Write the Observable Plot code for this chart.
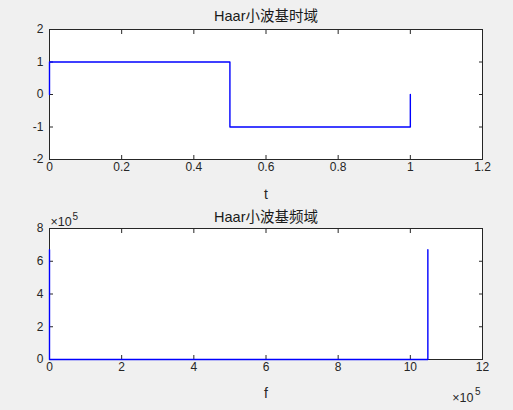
<!DOCTYPE html>
<html><head><meta charset="utf-8">
<script src="https://cdn.jsdelivr.net/npm/d3@7"></script>
<script src="https://cdn.jsdelivr.net/npm/@observablehq/plot@0.6"></script>
<style>
html,body{margin:0;padding:0;background:#f0f0f0;}
#wrap{width:513px;height:410px;position:relative;overflow:hidden;}
#wrap svg{position:absolute;left:0;display:block;overflow:visible;}
</style></head><body><div id="wrap"></div>
<script>
// Top: Haar wavelet in time domain
const tTime = [0, 0, 0.5, 0.5, 1, 1];
const yTime = [0, 1, 1, -1, -1, 0];
// Bottom: Haar wavelet spectrum
const fFreq = [0, 0, 1048575, 1048575];
const magFreq = [6.7e5, 0, 0, 6.7e5];

const xTicksTop = [0, 0.2, 0.4, 0.6, 0.8, 1, 1.2];
const yTicksTop = [-2, -1, 0, 1, 2];
const xTicksBottom = [0, 2e5, 4e5, 6e5, 8e5, 10e5, 12e5];
const yTicksBottom = [0, 2e5, 4e5, 6e5, 8e5];
const titles = ["Haar小波基时域", "Haar小波基频域"];
const xLabels = ["t", "f"];
const expLabel = ["×10", "5"];

const FONT = "'Liberation Sans', Arial, 'Noto Sans CJK SC', sans-serif";
const INK = "#262626";
const BLUE = "#0000ff";

function frameAxes(xTicks, yTicks, xFmt, yFmt) {
  return [
    Plot.frame({fill: "white", stroke: INK, strokeWidth: 1}),
    Plot.axisX(xTicks, {anchor: "bottom", tickSize: -4, tickPadding: 7, tickFormat: xFmt, fontSize: 12, fill: INK, stroke: INK, label: null}),
    Plot.axisX(xTicks, {anchor: "top", tickSize: -4, tickFormat: () => "", stroke: INK, label: null}),
    Plot.axisY(yTicks, {anchor: "left", tickSize: -4, tickPadding: 10, tickFormat: yFmt, fontSize: 12, fill: INK, stroke: INK, label: null}),
    Plot.axisY(yTicks, {anchor: "right", tickSize: -4, tickFormat: () => "", stroke: INK, label: null})
  ];
}

const wrap = document.getElementById("wrap");

// ---- top chart ----
const chartTop = Plot.plot({
  width: 513, height: 205,
  marginLeft: 49, marginRight: 31, marginTop: 29, marginBottom: 46,
  style: {background: "transparent", fontFamily: FONT, color: INK, overflow: "visible"},
  x: {domain: [0, 1.2]},
  y: {domain: [-2, 2]},
  marks: [
    ...frameAxes(xTicksTop, yTicksTop, d => String(d), d => String(d)),
    Plot.text([titles[0]], {frameAnchor: "top", lineAnchor: "middle", dy: -13, fontSize: 14.5, fill: "#1a1a1a"}),
    Plot.text([xLabels[0]], {frameAnchor: "bottom", lineAnchor: "middle", dy: 35, fontSize: 14, fill: INK}),
    Plot.line(tTime.map((t, i) => ({t, v: yTime[i]})), {x: "t", y: "v", stroke: BLUE, strokeWidth: 1.4})
  ]
});
chartTop.style.top = "0px";
wrap.appendChild(chartTop);

// ---- bottom chart ----
const chartBot = Plot.plot({
  width: 513, height: 205,
  marginLeft: 49, marginRight: 31, marginTop: 23, marginBottom: 51,
  style: {background: "transparent", fontFamily: FONT, color: INK, overflow: "visible"},
  x: {domain: [0, 12e5]},
  y: {domain: [0, 8e5]},
  marks: [
    ...frameAxes(xTicksBottom, yTicksBottom, d => String(d / 1e5), d => String(d / 1e5)),
    Plot.text([titles[1]], {frameAnchor: "top", lineAnchor: "middle", dy: -11, fontSize: 14.5, fill: "#1a1a1a"}),
    Plot.text([xLabels[1]], {frameAnchor: "bottom", lineAnchor: "middle", dy: 34, fontSize: 14, fill: INK}),
    // x10^5 multipliers
    Plot.text([expLabel[0]], {frameAnchor: "top-left", lineAnchor: "middle", dx: 1, dy: -7, textAnchor: "start", fontSize: 12.5, fill: INK}),
    Plot.text([expLabel[1]], {frameAnchor: "top-left", lineAnchor: "middle", dx: 23, dy: -12, textAnchor: "start", fontSize: 10, fill: INK}),
    Plot.text([expLabel[0]], {frameAnchor: "bottom-right", lineAnchor: "middle", dx: -9, dy: 38, textAnchor: "end", fontSize: 12.5, fill: INK}),
    Plot.text([expLabel[1]], {frameAnchor: "bottom-right", lineAnchor: "middle", dx: -2, dy: 32.5, textAnchor: "end", fontSize: 10, fill: INK}),
    Plot.line(fFreq.map((f, i) => ({f, m: magFreq[i]})), {x: "f", y: "m", stroke: BLUE, strokeWidth: 1.4})
  ]
});
chartBot.style.top = "205px";
wrap.appendChild(chartBot);
</script></body></html>
